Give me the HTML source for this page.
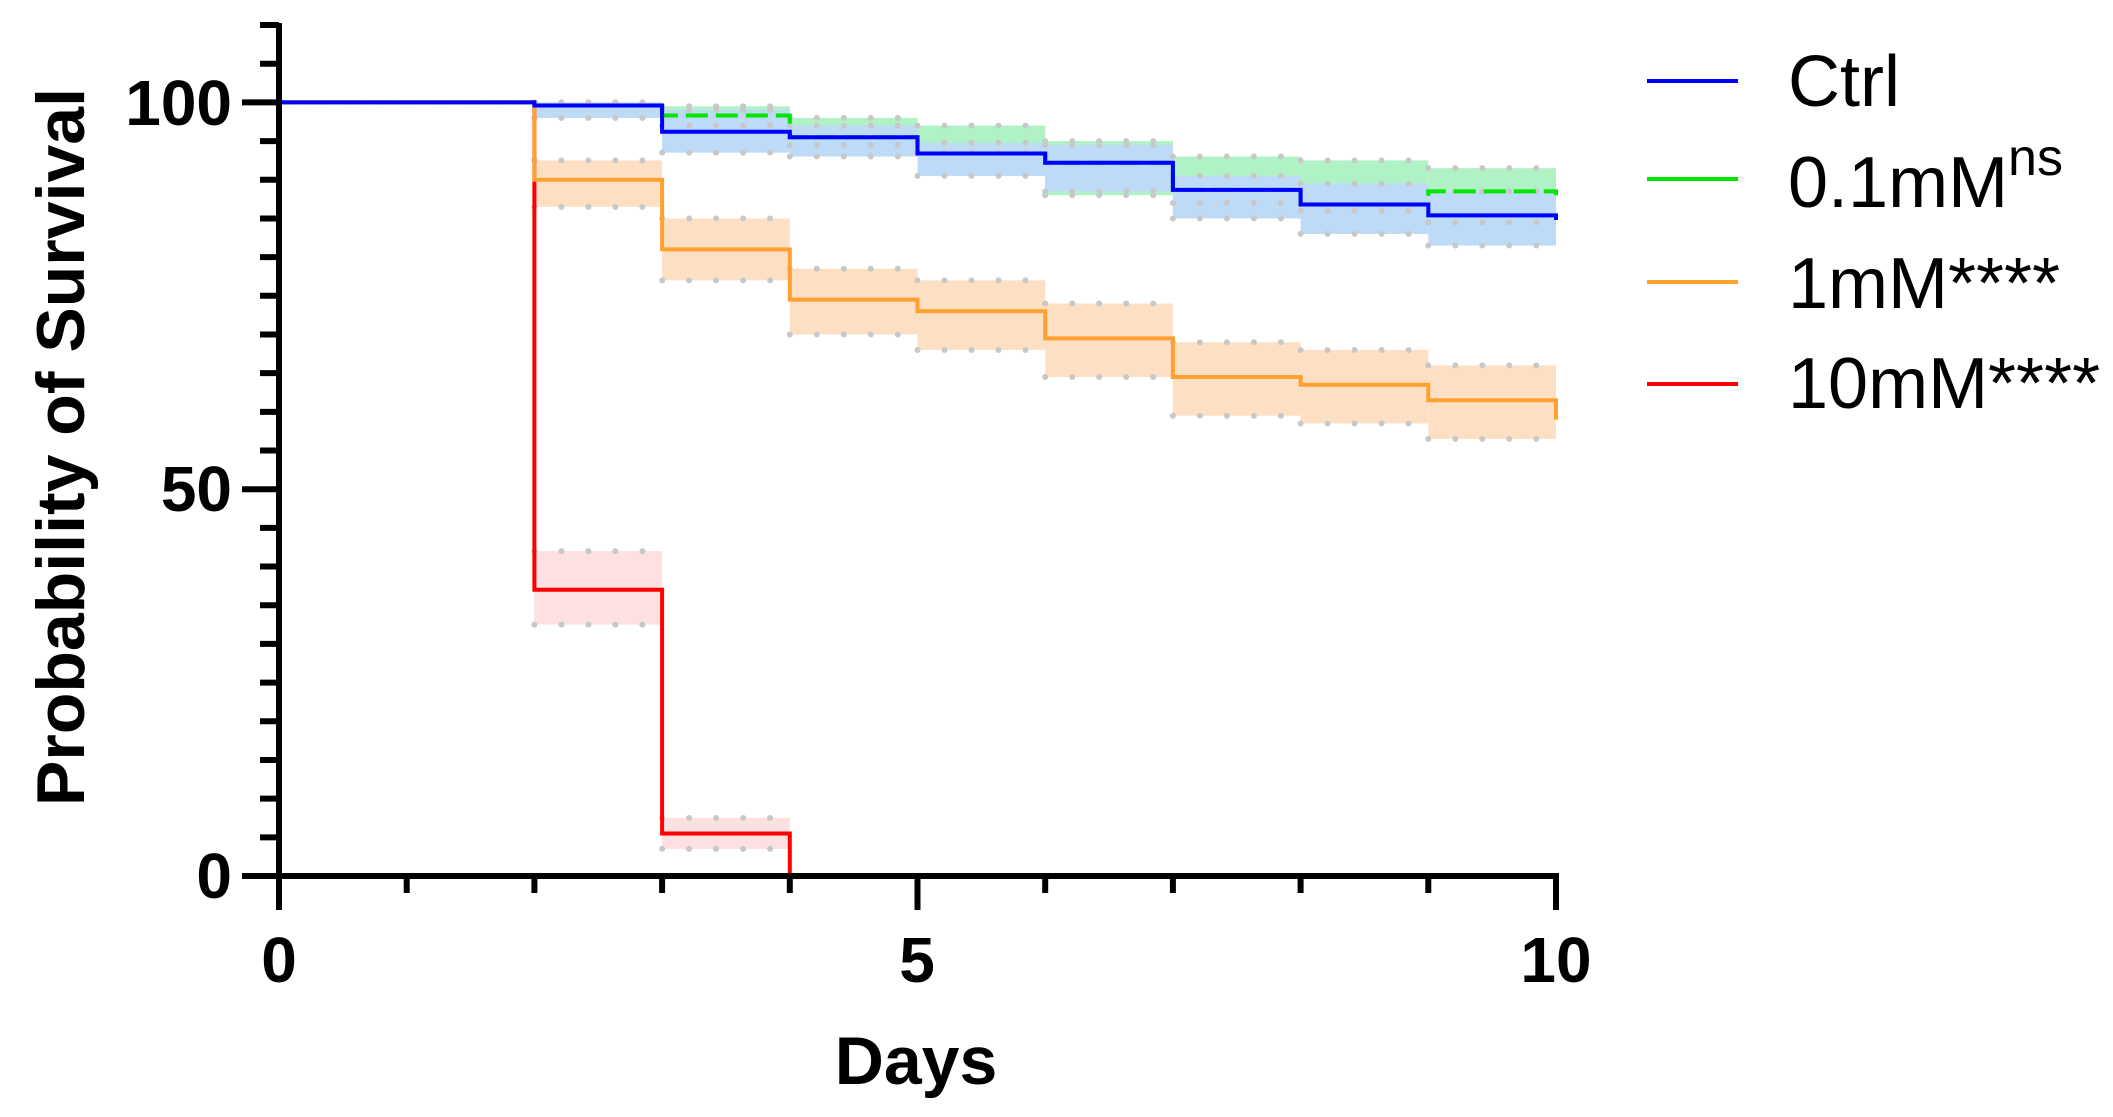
<!DOCTYPE html>
<html><head><meta charset="utf-8"><style>
html,body{margin:0;padding:0;background:#fff;}
svg{display:block;}
text{font-family:"Liberation Sans",Arial,sans-serif;}
</style></head><body>
<svg id="s" width="2113" height="1117" viewBox="0 0 2113 1117" xmlns="http://www.w3.org/2000/svg">
<g id="bands"></g>
<g id="lines"></g>
<g id="axes" stroke="#000" stroke-width="6" fill="none"></g>
<g font-weight="bold" font-size="64" fill="#000">
<text x="232" y="125" text-anchor="end">100</text>
<text x="232" y="511" text-anchor="end">50</text>
<text x="232" y="898" text-anchor="end">0</text>
<text x="279" y="982" text-anchor="middle">0</text>
<text x="917" y="982" text-anchor="middle">5</text>
<text x="1556" y="982" text-anchor="middle">10</text>
<text x="916" y="1084" text-anchor="middle" font-size="68">Days</text>
<text transform="translate(84,447) rotate(-90)" text-anchor="middle" font-size="68">Probability of Survival</text>
</g>
<g font-size="72" fill="#000">
<line x1="1647" y1="81" x2="1738" y2="81" stroke="#0000ff" stroke-width="4"/>
<line x1="1647" y1="179" x2="1738" y2="179" stroke="#00e600" stroke-width="4"/>
<line x1="1647" y1="282" x2="1738" y2="282" stroke="#ffa030" stroke-width="4"/>
<line x1="1647" y1="384" x2="1738" y2="384" stroke="#ff0000" stroke-width="4"/>
<text x="1788" y="106">Ctrl</text>
<text x="1788" y="207">0.1mM<tspan font-size="52" dy="-32">ns</tspan></text>
<text x="1788" y="308">1mM****</text>
<text x="1788" y="408">10mM****</text>
</g>
</svg>
<script>
const X=d=>279+d*127.7, Y=v=>876-v*7.736;
const NS="http://www.w3.org/2000/svg";
function el(p,t,a){const e=document.createElementNS(NS,t);for(const k in a)e.setAttribute(k,a[k]);p.appendChild(e);return e;}
const bands=document.getElementById('bands'),lines=document.getElementById('lines'),ax=document.getElementById('axes');
const green={c:'#00e600',f:'#b0f2c6',v:[99.6,98.3,95.5,93.4,92.2,88.7,86.8,88.5],lo:[98,97,94.5,93.5,88,87,86,84.5],hi:[100,99.5,98,97,95,93,92.5,91.5],dash:true,end:88};
const blue={c:'#0000ff',f:'#bddbf6',v:[99.6,96.2,95.5,93.4,92.2,88.7,86.8,85.4],lo:[98,93.5,93,90.5,88.5,85,83,81.5],hi:[100,99,97,94.8,94.5,90.5,89.5,88.5],end:84.8};
const orange={c:'#ffa030',f:'#fde0c4',v:[90,81,74.5,73,69.5,64.5,63.5,61.5],lo:[86.5,77,70,68,64.5,59.5,58.5,56.5],hi:[92.5,85,78.5,77,74,69,68,66],end:59};
const red={c:'#ff0000',f:'#fde0e0',v:[37,5.5],lo:[32.5,3.5],hi:[42,7.5],end:0};
[green,blue,orange,red].forEach(s=>{
 s.v.forEach((v,i)=>{
  const d=2+i, x1=X(d), x2=X(d+1);
  el(bands,'rect',{x:x1,y:Y(s.hi[i]),width:x2-x1,height:Y(s.lo[i])-Y(s.hi[i]),fill:s.f});
 });
});
[green,blue,orange,red].forEach(s=>{
 s.v.forEach((v,i)=>{
  const d=2+i, x1=X(d), x2=X(d+1);
  [s.hi[i],s.lo[i]].forEach(b=>el(bands,'line',{x1:x1,y1:Y(b),x2:x2,y2:Y(b),stroke:'#c8c8c8','stroke-width':6,'stroke-linecap':'round','stroke-dasharray':'0 27'}));
 });
});
[red,orange,green,blue].forEach(s=>{
 let p=`${X(0)},${Y(100)} ${X(2)},${Y(100)}`;
 s.v.forEach((v,i)=>{p+=` ${X(2+i)},${Y(v)} ${X(3+i)},${Y(v)}`;});
 p+=` ${X(2+s.v.length)},${Y(s.end)}`;
 el(lines,'polyline',{points:p,fill:'none',stroke:s.c,'stroke-width':4,'stroke-dasharray':s.dash?'22 8':'none'});
});
el(ax,'line',{x1:279,y1:23,x2:279,y2:879});
el(ax,'line',{x1:276,y1:876,x2:1559,y2:876});
for(let v=0;v<=110;v+=5){const maj=v%50==0;el(ax,'line',{x1:maj?242:260,y1:Y(v),x2:279,y2:Y(v)});}
for(let d=0;d<=10;d++){const maj=d%5==0;el(ax,'line',{x1:X(d),y1:876,x2:X(d),y2:maj?910:893});}
</script>
</body></html>
